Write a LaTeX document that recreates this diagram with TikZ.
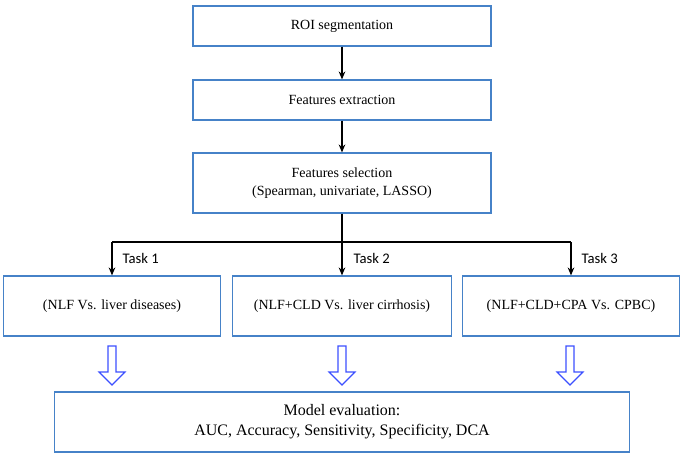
\documentclass[tikz,border=0pt]{standalone}
\usepackage{fontspec}
\setmainfont{Liberation Serif}
\newfontfamily\sansf{Carlito}
\usetikzlibrary{arrows.meta}
\begin{document}
\begin{tikzpicture}[x=0.75pt,y=-0.75pt,
  box/.style={draw={rgb,255:red,70;green,130;blue,200}, line width=0.9pt, fill=white, font=\fontsize{10.5}{13}\selectfont, align=center, inner sep=0pt},
  arr/.style={-{Stealth[length=6pt,width=5pt]}, line width=0.8pt},
  tl/.style={font=\sansf\fontsize{11}{13}\selectfont, anchor=west}]
\useasboundingbox (0,0) rectangle (685,456);
\node[box, minimum width=0.75*298pt, minimum height=0.75*40pt] (a) at (342,26) {ROI segmentation};
\node[box, minimum width=0.75*298pt, minimum height=0.75*40pt] (b) at (342,100) {Features extraction};
\node[box, minimum width=0.75*298pt, minimum height=0.75*60pt] (c) at (342,183) {Features selection\\(Spearman, univariate, LASSO)};
\node[box, minimum width=0.75*217pt, minimum height=0.75*60pt] (t1) at (112,306) {(NLF Vs. liver diseases)};
\node[box, minimum width=0.75*219pt, minimum height=0.75*60pt] (t2) at (342,306) {(NLF+CLD Vs. liver cirrhosis)};
\node[box, minimum width=0.75*217pt, minimum height=0.75*60pt] (t3) at (571,306) {(NLF+CLD+CPA Vs. CPBC)};
\node[box, minimum width=0.75*575pt, minimum height=0.75*60pt, font=\fontsize{12}{15}\selectfont] (m) at (342,422) {Model evaluation:\\AUC, Accuracy, Sensitivity, Specificity, DCA};
\draw[arr] (a) -- (b);
\draw[arr] (b) -- (c);
\coordinate (j1) at (112,242);
\coordinate (j3) at (571,242);
\draw[line width=0.8pt] (j1) -- (j3);
\draw[arr] (c.south) -- (t2.north);
\draw[arr] (j1) -- (t1.north);
\draw[arr] (j3) -- (t3.north);
\node[tl] (l1) at (118,258) {Task 1};
\node[tl] (l2) at (349,258) {Task 2};
\node[tl] (l3) at (577,258) {Task 3};
\foreach \x in {112,342,570}{
  \draw[draw={rgb,255:red,60;green,80;blue,255}, line width=0.9pt, fill=white]
   (\x-4,346) -- (\x+4,346) -- (\x+4,372) -- (\x+13,372) -- (\x,385) -- (\x-13,372) -- (\x-4,372) -- cycle;
}
\end{tikzpicture}
\end{document}
